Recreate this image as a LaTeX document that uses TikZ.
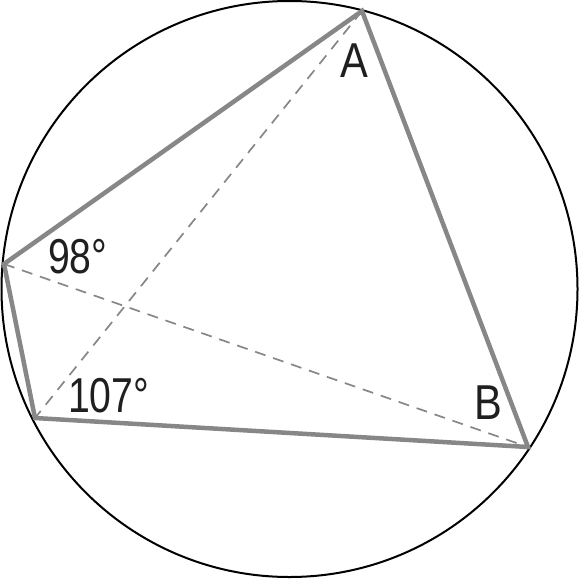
\documentclass[tikz,border=0pt]{standalone}
\usepackage{fontspec}
\setmainfont{Liberation Sans}
\definecolor{edgegray}{RGB}{135,135,135}
\begin{document}
\begin{tikzpicture}[x=1pt,y=-1pt,
  side/.style={draw=edgegray,line width=4.5pt,line join=miter},
  diag/.style={draw=edgegray,line width=1.7pt,dash pattern=on 11pt off 8pt},
  lbl/.style={inner sep=0pt,anchor=base west,font=\fontsize{49}{49}\selectfont,text=black!88}]
\useasboundingbox (0,0) rectangle (580,578);
\draw[line width=2pt] (289.5,289) circle (288);
\coordinate (A) at (362,11);
\coordinate (B) at (528,447);
\coordinate (P) at (4,264);
\coordinate (Q) at (35,418);
\draw[diag] (A) -- (Q);
\draw[diag] (P) -- (B);
\draw[side] (A) -- (B) -- (Q) -- (P) -- cycle;
\node[lbl] (l98) at (48,273) {\scalebox{0.8}[1]{98°}};
\node[lbl] (l107) at (68,412) {\scalebox{0.8}[1]{107°}};
\node[lbl] (la) at (340,77) {\scalebox{0.85}[1]{A}};
\node[lbl] (lb) at (474,419) {\scalebox{0.85}[1]{B}};
\end{tikzpicture}
\end{document}
